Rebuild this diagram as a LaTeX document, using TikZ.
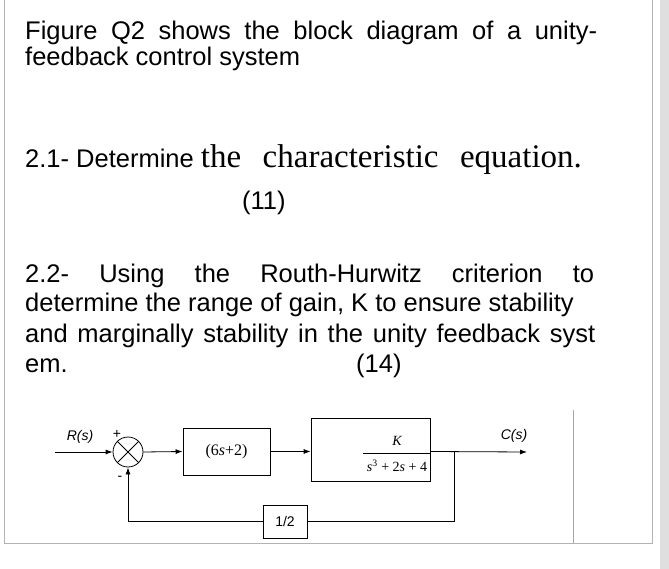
\documentclass[tikz,border=0pt]{standalone}
\usepackage{fontspec}
\setmainfont{Liberation Sans}
\newfontfamily\serifA{Liberation Serif}
\usetikzlibrary{arrows.meta}
\begin{document}
\begin{tikzpicture}[x=1pt,y=-1pt,
  txt/.style={anchor=base west,inner sep=0,font=\fontsize{25.5}{28}\selectfont},
  blk/.style={draw,thick,inner sep=0},
  sig/.style={thick,-{Latex[length=7pt,width=5pt]}},
  wire/.style={thick},
  lab/.style={font=\fontsize{14}{16}\selectfont,inner sep=0}]
\useasboundingbox (0,0) rectangle (669,569);
\fill[gray!25] (660,0) rectangle (669,569);
\draw[gray!60,line width=0.8pt] (4,0) -- (4,543) -- (652,543) -- (652,0);
\node[txt] (l1) at (25,40) {\makebox[572pt][s]{Figure Q2 shows the block diagram of a unity-}};
\node[txt] (l2) at (25,66) {feedback control system};
\node[txt] (l3) at (25,168) {2.1- Determine \makebox[381pt][s]{\serifA\fontsize{33}{35}\selectfont the characteristic equation.}};
\node[txt] (l4) at (242,210) {(11)};
\node[txt] (l5) at (25,283) {\makebox[569pt][s]{2.2- Using the Routh-Hurwitz criterion to}};
\node[txt] (l6) at (25,312) {determine the range of gain, K to ensure stability};
\node[txt] (l7) at (25,342) {\makebox[570pt][s]{and marginally stability in the unity feedback syst}};
\node[txt] (l8) at (25,372) {em.};
\node[txt] (l9) at (356,372) {(14)};
% diagram frame
\draw[gray!70,line width=0.8pt] (573,410) -- (573,543);
\coordinate (in) at (55,452);
\node[draw,thick,circle,minimum size=30pt,inner sep=0] (sum) at (128,452) {};
\draw[thick] (sum.north west) -- (sum.south east) (sum.north east) -- (sum.south west);
\node[blk,minimum width=87pt,minimum height=47pt] (g1) at (226.5,451.5) {\serifA\fontsize{16}{18}\selectfont (6\textit{s}+2)};
\node[blk,minimum width=119pt,minimum height=63pt] (g2) at (370.5,449.5) {};
\node[inner sep=0] (k) at (397,441) {\serifA\fontsize{14}{16}\selectfont\itshape K};
\node[inner sep=0] (den) at (397,466) {\serifA\fontsize{14}{16}\selectfont \textit{s}\textsuperscript{3} + 2\textit{s} + 4};
\draw[thin] (363,453) -- (431,453);
\node[blk,minimum width=44pt,minimum height=33pt] (h) at (285,521.5) {\fontsize{14}{16}\selectfont 1/2};
\coordinate (br) at (454,452);
\coordinate (out) at (527,452);
\coordinate (c1) at (454,521.5);
\coordinate (c2) at (128,521.5);
\node[lab] (R) at (80,437) {\itshape R(s)};
\node[lab] (C) at (514,436) {\itshape C(s)};
\node[lab] (p) at (117,434) {+};
\node[lab] (m) at (120,478) {-};
\draw[sig] (in) -- (sum.west);
\draw[sig] (sum.east) -- (g1.west);
\draw[sig] (g1.east) -- (g1.east -| g2.west);
\draw[sig] (g1.east -| g2.east) -- (out);
\draw[wire] (br) -- (c1) -- (h.east);
\draw[sig] (h.west) -- (c2) -- (sum.south);
\end{tikzpicture}
\end{document}
